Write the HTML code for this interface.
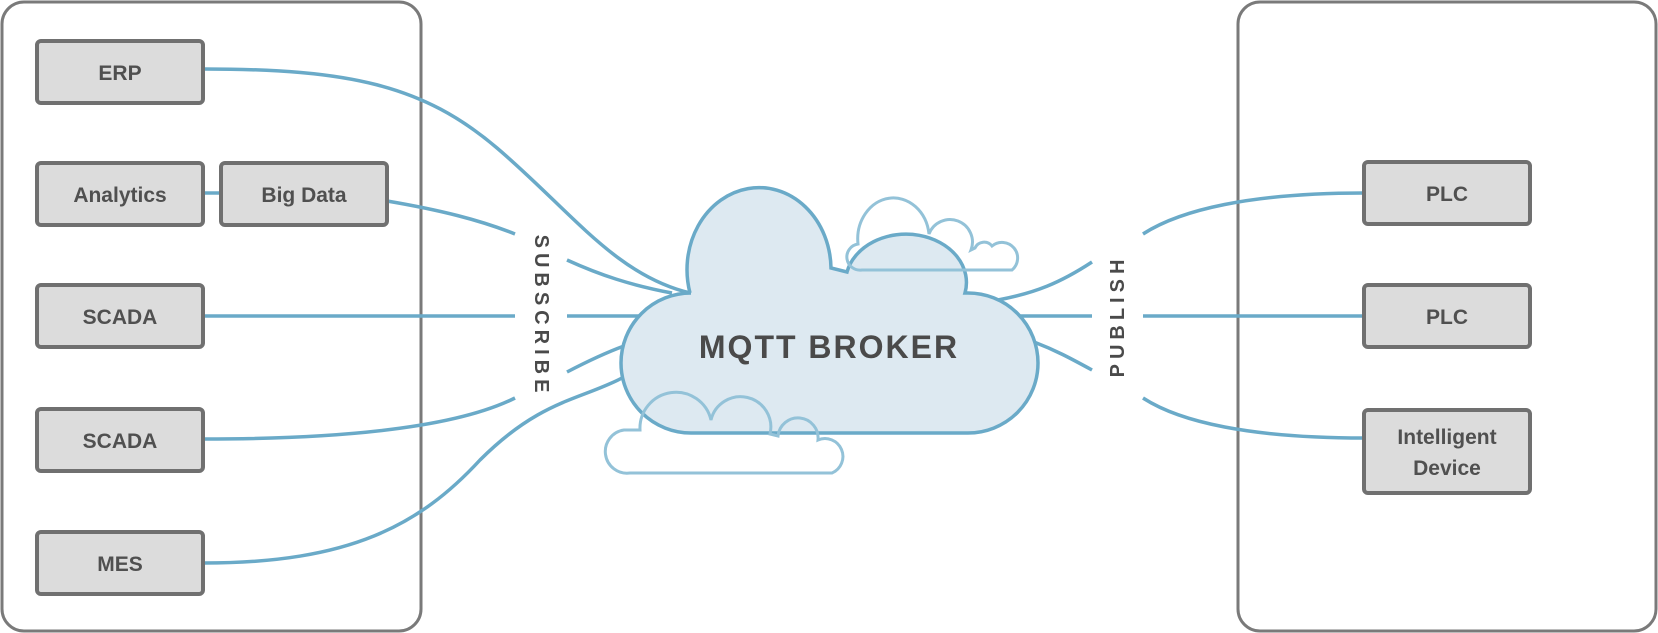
<!DOCTYPE html>
<html><head><meta charset="utf-8"><style>
html,body{margin:0;padding:0;background:#fff;}
svg{display:block}
text{font-family:"Liberation Sans",sans-serif;}
</style></head><body>
<svg width="1658" height="633" viewBox="0 0 1658 633" xmlns="http://www.w3.org/2000/svg">
<rect x="2" y="2" width="419" height="629" rx="22" fill="none" stroke="#7a7a7a" stroke-width="3"/>
<rect x="1238" y="2" width="418" height="629" rx="22" fill="none" stroke="#7a7a7a" stroke-width="3"/>
<g fill="none" stroke="#6aaac8" stroke-width="3.5">
<path d="M204,69 C349,69 423,85 497,148 C571,211 615,275 690,293"/>
<path d="M387,201 C440,210 480,220 515,234"/>
<path d="M567,260 C600,275 630,285 672,293"/>
<path d="M204,316 L515,316"/><path d="M567,316 L640,316"/>
<path d="M204,439 C370,439 465,423 515,398"/>
<path d="M567,372 C590,360 605,353 624,346"/>
<path d="M204,563 C350,563 420,525 480,460 C540,400 580,400 622,378"/>
<path d="M204,193 L220,193"/>
<path d="M1364,193 C1250,193 1180,210 1143,234"/>
<path d="M1092,262 C1060,283 1035,293 998,300"/>
<path d="M1143,316 L1364,316"/><path d="M1018,316 L1092,316"/>
<path d="M1364,438 C1250,438 1180,422 1143,398"/>
<path d="M1092,370 C1070,358 1055,350 1034,342"/>
</g>
<path d="M691,433 A70,70 0 0 1 691,293 L690,293 A72,82 0 1 1 831,268 L847,272 A60,48 0 0 1 965,293 L968,293 A70,70 0 0 1 968,433 Z" fill="#dde9f1" stroke="#6aaac8" stroke-width="3.5"/>
<g fill="none" stroke="#93c2d8" stroke-width="3">
<path d="M862,270 A13,13 0 0 1 858,244 A27,31 0 0 1 929,234 A21,21 0 0 1 971,250 L975,248 A10,10 0 0 1 992,246 A11,11 0 0 1 1012,270 Z"/>
<path d="M630,473 A15,15 0 0 1 624,430 L640,430 A36,36 0 0 1 711,420 A29,29 0 0 1 770,434 L778,436 A12,12 0 0 1 818,440 A14,14 0 0 1 832,473 Z"/>
</g>
<text x="829" y="358" font-size="32" font-weight="bold" fill="#4a4a4a" text-anchor="middle" letter-spacing="2">MQTT BROKER</text>
<text transform="translate(535,316) rotate(90)" font-size="20" font-weight="bold" fill="#4a4a4a" text-anchor="middle" letter-spacing="5">SUBSCRIBE</text>
<text transform="translate(1124,316) rotate(-90)" font-size="20" font-weight="bold" fill="#4a4a4a" text-anchor="middle" letter-spacing="5">PUBLISH</text>
<g fill="#dcdcdc" stroke="#707070" stroke-width="4">
<rect x="37" y="41" width="166" height="62" rx="4"/>
<rect x="37" y="163" width="166" height="62" rx="4"/>
<rect x="221" y="163" width="166" height="62" rx="4"/>
<rect x="37" y="285" width="166" height="62" rx="4"/>
<rect x="37" y="409" width="166" height="62" rx="4"/>
<rect x="37" y="532" width="166" height="62" rx="4"/>
<rect x="1364" y="162" width="166" height="62" rx="4"/>
<rect x="1364" y="285" width="166" height="62" rx="4"/>
<rect x="1364" y="410" width="166" height="83" rx="4"/>
</g>
<g font-size="21" font-weight="bold" fill="#505050" text-anchor="middle">
<text x="120" y="80">ERP</text>
<text x="120" y="202">Analytics</text>
<text x="304" y="202">Big Data</text>
<text x="120" y="324">SCADA</text>
<text x="120" y="448">SCADA</text>
<text x="120" y="571">MES</text>
<text x="1447" y="201">PLC</text>
<text x="1447" y="324">PLC</text>
<text x="1447" y="444">Intelligent</text>
<text x="1447" y="475">Device</text>
</g>
</svg>
</body></html>
